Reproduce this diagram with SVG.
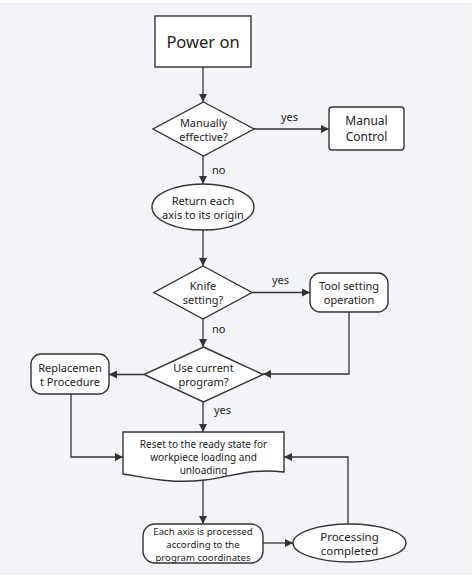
<svg xmlns="http://www.w3.org/2000/svg" width="474" height="578" viewBox="0 0 474 578">
<defs>
<marker id="arr" viewBox="0 0 10 10" refX="10" refY="5" markerWidth="8" markerHeight="8" markerUnits="userSpaceOnUse" orient="auto">
<path d="M0,0 L10,5 L0,10 z" fill="#333"/>
</marker>
<style>
.s{fill:#fff;stroke:#333;stroke-width:1.4}
.c{fill:none;stroke:#333;stroke-width:1.3;marker-end:url(#arr)}
text{font-family:"Noto Sans","Open Sans","DejaVu Sans",sans-serif;fill:#222;text-anchor:middle}
.t{font-size:11px}
.sm{font-size:10px}
.xs{font-size:9.6px}
.lb{font-size:11px;text-anchor:start}
</style>
</defs>
<rect x="0" y="0" width="474" height="578" fill="#fff"/>
<rect x="0" y="3" width="472" height="572" fill="#f3f4f8"/>

<g id="connectors">
<path class="c" d="M203,67 V102"/>
<path class="c" d="M254,129 H329"/>
<path class="c" d="M203,156 V184"/>
<path class="c" d="M203,230 V266"/>
<path class="c" d="M252,292.5 H310"/>
<path class="c" d="M203,319 V347"/>
<path class="c" d="M349,312 V374 H263"/>
<path class="c" d="M144,374.5 H109"/>
<path class="c" d="M203,402 V432"/>
<path class="c" d="M71,394 V457 H123"/>
<path class="c" d="M203,480 V524"/>
<path class="c" d="M263,543 H293"/>
<path class="c" d="M348,524 V457 H284"/>
<text class="lb" x="281" y="121">yes</text>
<text class="lb" x="212" y="174">no</text>
<text class="lb" x="272" y="284">yes</text>
<text class="lb" x="212" y="333">no</text>
<text class="lb" x="214" y="414">yes</text>
</g>

<g id="power-on">
<rect class="s" x="155" y="16" width="96" height="51"/>
<text x="203" y="48" style="font-size:16.5px">Power on</text>
</g>

<g id="manually-effective">
<path class="s" d="M203.5,102 L254,129 L203.5,156 L153,129 Z"/>
<text class="t" x="203.5" y="127">Manually</text>
<text class="t" x="203.5" y="141">effective?</text>
</g>

<g id="manual-control">
<rect class="s" x="329" y="107" width="75" height="43" rx="3"/>
<text x="366.5" y="125" style="font-size:12px">Manual</text>
<text x="366.5" y="141" style="font-size:12px">Control</text>
</g>

<g id="return-origin">
<ellipse class="s" cx="203" cy="207" rx="51" ry="23"/>
<text class="t" x="203" y="205">Return each</text>
<text class="t" x="203" y="219">axis to its origin</text>
</g>

<g id="knife-setting">
<path class="s" d="M203,266 L252,292.5 L203,319 L154,292.5 Z"/>
<text class="t" x="203" y="290">Knife</text>
<text class="t" x="203" y="304">setting?</text>
</g>

<g id="tool-setting">
<rect class="s" x="310" y="273" width="78" height="39" rx="10"/>
<text class="t" x="349" y="290">Tool setting</text>
<text class="t" x="349" y="304">operation</text>
</g>

<g id="use-current-program">
<path class="s" d="M203.5,347 L263,374.5 L203.5,402 L144,374.5 Z"/>
<text class="t" x="203.5" y="372">Use current</text>
<text class="t" x="203.5" y="386">program?</text>
</g>

<g id="replacement">
<rect class="s" x="31" y="354" width="78" height="40" rx="10"/>
<text class="t" x="70" y="372">Replacemen</text>
<text class="t" x="70" y="386">t Procedure</text>
</g>

<g id="reset">
<path class="s" d="M123,432 H284 V472 C250,468 235,476 205,480 C170,484 150,478 123,474 Z"/>
<text class="sm" x="203.5" y="448">Reset to the ready state for</text>
<text class="sm" x="203.5" y="461">workpiece loading and</text>
<text class="sm" x="203.5" y="474">unloading</text>
</g>

<g id="each-axis">
<rect class="s" x="143" y="524" width="120" height="39" rx="12"/>
<text class="xs" x="203" y="535">Each axis is processed</text>
<text class="xs" x="203" y="548">according to the</text>
<text class="xs" x="203" y="561">program coordinates</text>
</g>

<g id="processing-completed">
<ellipse class="s" cx="349.5" cy="543" rx="56.5" ry="19"/>
<text x="349.5" y="541" style="font-size:11.5px">Processing</text>
<text x="349.5" y="555" style="font-size:11.5px">completed</text>
</g>
</svg>
